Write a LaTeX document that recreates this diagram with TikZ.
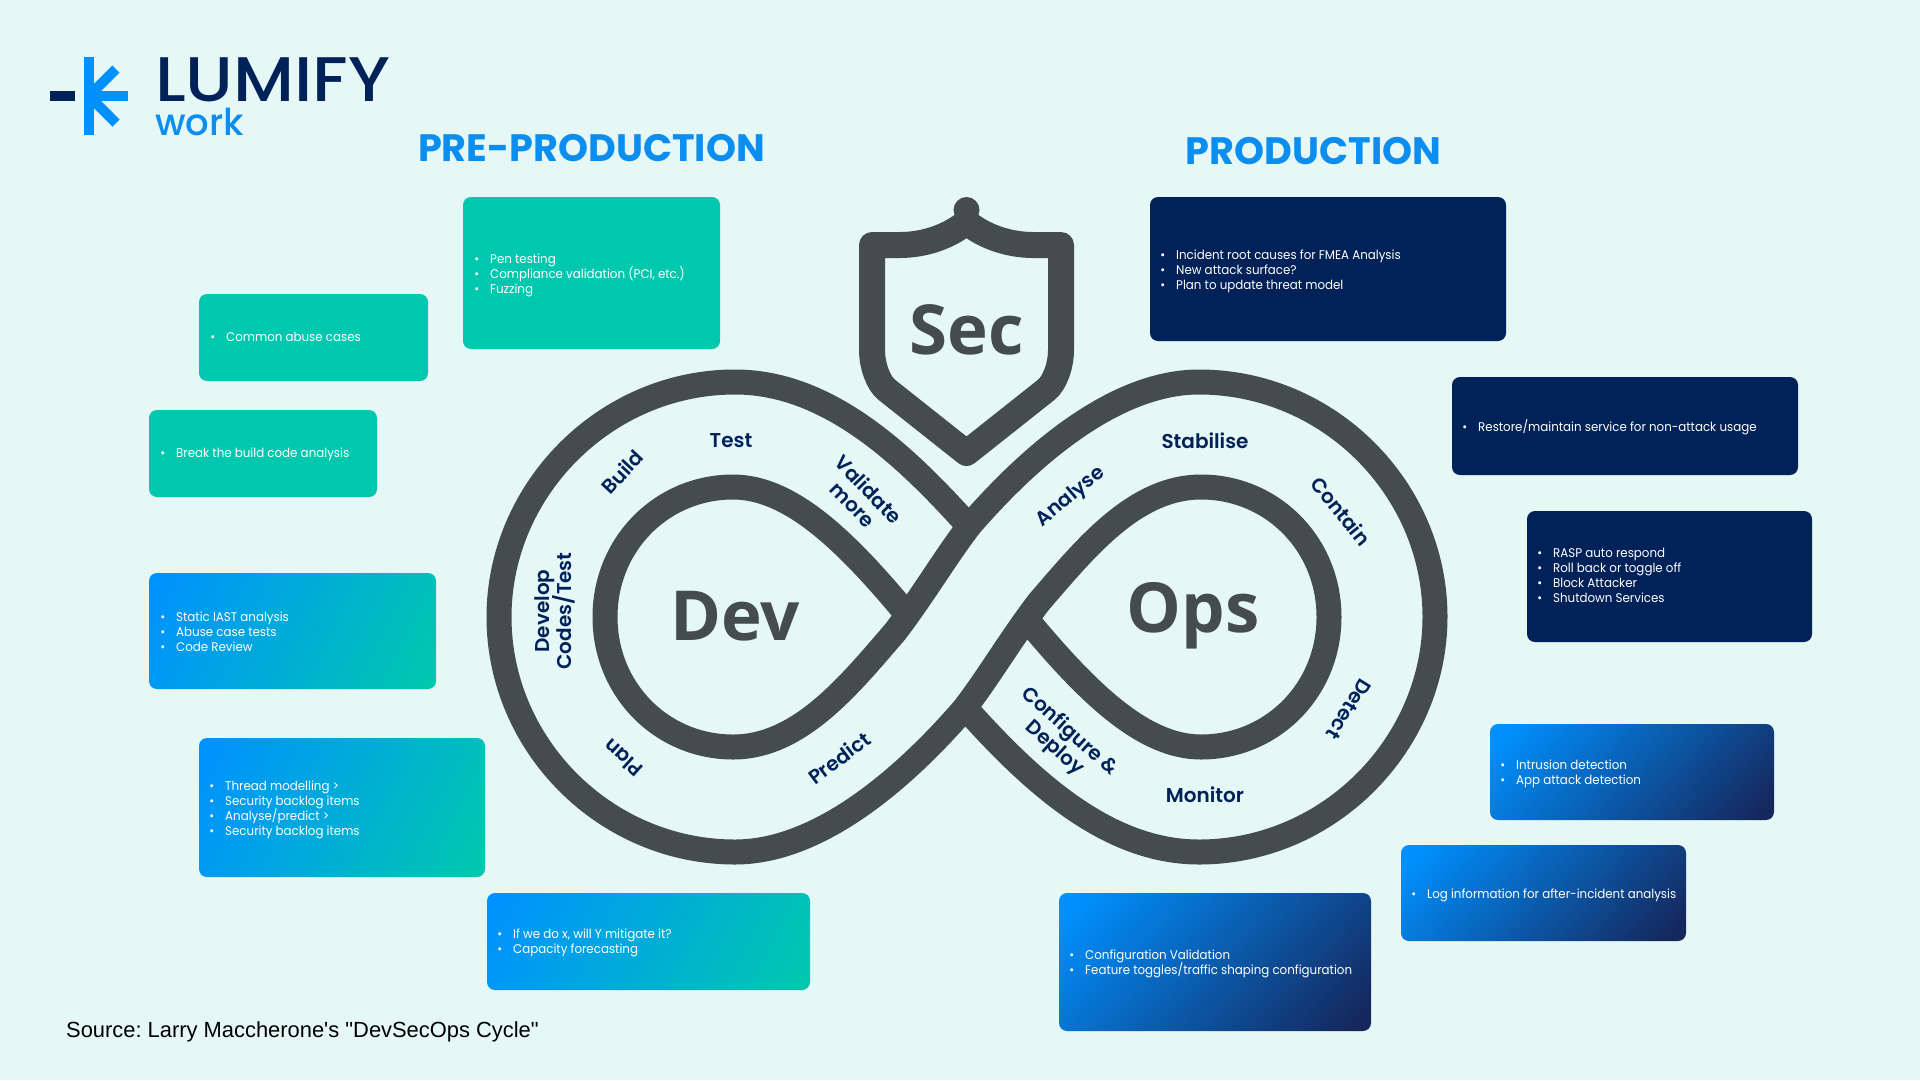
\documentclass[tikz,border=0pt]{standalone}
\usepackage{fontspec}
\setmainfont{Poppins}
\newfontfamily\cardfont[FakeStretch=0.94]{Poppins}
\newfontfamily\labfont{Poppins SemiBold}
\newfontfamily\medfont{Poppins Medium}
\newfontfamily\opensans[BoldFont={Open Sans Bold}]{Open Sans}
\newfontfamily\srcfont{Liberation Sans}
\usetikzlibrary{shadings}
\definecolor{bgc}{HTML}{E5F8F6}
\definecolor{loopc}{HTML}{454C4D}
\definecolor{navy}{HTML}{012159}
\definecolor{teal}{HTML}{00C8AE}
\definecolor{skyb}{HTML}{0091FF}
\definecolor{navyb}{HTML}{15275C}
\definecolor{titleb}{HTML}{0B8EF0}
\pgfdeclareverticalshading{blueteal}{100bp}{color(0bp)=(teal); color(18bp)=(teal); color(82bp)=(skyb); color(100bp)=(skyb)}
\pgfdeclareverticalshading{bluenavy}{100bp}{color(0bp)=(navyb); color(18bp)=(navyb); color(82bp)=(skyb); color(100bp)=(skyb)}
\newcommand{\bl}{\makebox[0pt][r]{\textbullet\hspace{11pt}}\strut}
\tikzset{
  x=1pt,y=-1pt,
  card/.style={inner sep=0,outer sep=0,rounded corners=8pt,text=white},
  tealcard/.style={card,fill=teal},
  navycard/.style={card,fill=navy},
  bluetealcard/.style={card,shade,shading=blueteal,shading angle=65},
  bluenavycard/.style={card,shade,shading=bluenavy,shading angle=47},
  bullets/.style={anchor=west,align=left,inner sep=0,yshift=-1.5pt,text=white,font=\cardfont\fontsize{12.6}{15}\selectfont},
  band/.style={draw=loopc,line width=25pt,line join=round},
  lab/.style={text=navy,inner sep=0,align=center,font=\labfont\fontsize{20}{22}\selectfont},
  bigw/.style={text=loopc,inner sep=0,font=\opensans\bfseries\fontsize{69}{69}\selectfont},
  sectitle/.style={text=titleb,inner sep=0,font=\bfseries\fontsize{38.2}{38.2}\selectfont},
}
\AtBeginDocument{\lineskiplimit=-20pt\relax}
\begin{document}
\begin{tikzpicture}
\fill[bgc] (0,0) rectangle (1920,1080);
\useasboundingbox (0,0) rectangle (1920,1080);

% logo
\fill[navy] (50,91) rectangle (74.7,101);
\fill[skyb] (84,57) rectangle (94,135);
\fill[skyb] (94,91) rectangle (128,101);
\draw[skyb,line width=10pt] (89,96) -- (116,69);
\draw[skyb,line width=10pt] (89,96) -- (116,123);
\node[text=navy,inner sep=0,anchor=base west,xscale=1.098,font=\medfont\fontsize{63}{63}\selectfont] (lumify) at (155,101) {LUMIFY};
\node[text=titleb,inner sep=0,anchor=base west,font=\medfont\fontsize{37}{37}\selectfont] (work) at (155,135) {work};

% section titles
\node[sectitle] (pre) at (591.5,148) {PRE-PRODUCTION};
\node[sectitle] (prod) at (1313.5,151) {PRODUCTION};

% shield
\draw[band,line width=26pt] (872,245) -- (900,245) .. controls (925,245) and (950,236) .. (966.5,222)
  .. controls (983,236) and (1008,245) .. (1033,245) -- (1061,245) -- (1061,350)
  .. controls (1061,365) and (1055,383) .. (1046,390) -- (966.5,453) -- (887,390)
  .. controls (878,383) and (872,365) .. (872,350) -- cycle;
\fill[loopc] (966.5,210) circle (13);

% figure of eight
\draw[band] (965,522) .. controls (900,450) and (825,382) .. (735,382)
  .. controls (605,382) and (499,490) .. (499,617)
  .. controls (499,745) and (605,852) .. (735,852)
  .. controls (816,852) and (899,784) .. (964,709)
  .. controls (990,675) and (1010,640) .. (1039,602)
  .. controls (1084,550) and (1134,487) .. (1201,487)
  .. controls (1272,487) and (1329,544) .. (1329,617)
  .. controls (1329,690) and (1272,747) .. (1201,747)
  .. controls (1144,747) and (1089,694) .. (1029,622);
\draw[band] (905,612) .. controls (845,540) and (790,487) .. (733,487)
  .. controls (662,487) and (605,544) .. (605,617)
  .. controls (605,690) and (662,747) .. (733,747)
  .. controls (800,747) and (850,684) .. (895,632)
  .. controls (924,594) and (944,559) .. (970,525)
  .. controls (1035,450) and (1118,382) .. (1199,382)
  .. controls (1329,382) and (1435,489) .. (1435,617)
  .. controls (1435,744) and (1329,852) .. (1199,852)
  .. controls (1109,852) and (1034,784) .. (969,712);

% big words
\node[bigw] (dev) at (735,616) {Dev};
\node[bigw] (ops) at (1193,616) {Ops};
\node[bigw] (sec) at (967,330) {Sec};

% loop labels
\node[lab] (test) at (731,441) {Test};
\node[lab,rotate=47] (build) at (622,472) {Build};
\node[lab,rotate=-46] (valid) at (861,497) {Validate\\more};
\node[lab,rotate=90] (devel) at (555,611) {Develop\\Codes/Test};
\node[lab,rotate=138] (plan) at (623,758) {Plan};
\node[lab,rotate=37] (predict) at (839,758) {Predict};
\node[lab,rotate=40] (analyse) at (1071,497) {Analyse};
\node[lab] (stab) at (1205,441) {Stabilise};
\node[lab,rotate=-51] (contain) at (1341,511) {Contain};
\node[lab,rotate=-122] (detect) at (1349,709) {Detect};
\node[lab,rotate=-42] (config) at (1062,740) {Configure \&\\Deploy};
\node[lab] (monitor) at (1205,795) {Monitor};

% cards
\node[tealcard,minimum width=257pt,minimum height=152pt] (c1) at (591.5,273) {};
\node[tealcard,minimum width=229pt,minimum height=87pt] (c2) at (313.5,337.5) {};
\node[tealcard,minimum width=228pt,minimum height=87pt] (c3) at (263,453.5) {};
\node[bluetealcard,minimum width=287pt,minimum height=116pt] (c4) at (292.5,631) {};
\node[bluetealcard,minimum width=286pt,minimum height=139pt] (c5) at (342,807.5) {};
\node[bluetealcard,minimum width=323pt,minimum height=97pt] (c6) at (648.5,941.5) {};
\node[navycard,minimum width=356pt,minimum height=144pt] (c7) at (1328,269) {};
\node[navycard,minimum width=346pt,minimum height=98pt] (c8) at (1625,426) {};
\node[navycard,minimum width=285pt,minimum height=131pt] (c9) at (1669.5,576.5) {};
\node[bluenavycard,minimum width=284pt,minimum height=96pt] (c10) at (1632,772) {};
\node[bluenavycard,minimum width=285pt,minimum height=96pt] (c11) at (1543.5,893) {};
\node[bluenavycard,minimum width=312pt,minimum height=138pt] (c12) at (1215,962) {};

% card texts
\node[bullets] (t1) at (490,273.5) {\bl Pen testing\\\bl Compliance validation (PCI, etc.)\\\bl Fuzzing};
\node[bullets] (t2) at (226,337) {\bl Common abuse cases};
\node[bullets] (t3) at (176,453) {\bl Break the build code analysis};
\node[bullets] (t4) at (176,632) {\bl Static IAST analysis\\\bl Abuse case tests\\\bl Code Review};
\node[bullets] (t5) at (225,808.5) {\bl Thread modelling >\\\bl Security backlog items\\\bl Analyse/predict >\\\bl Security backlog items};
\node[bullets] (t6) at (513,941) {\bl If we do x, will Y mitigate it?\\\bl Capacity forecasting};
\node[bullets] (t7) at (1176,269.5) {\bl Incident root causes for FMEA Analysis\\\bl New attack surface?\\\bl Plan to update threat model};
\node[bullets] (t8) at (1478,426) {\bl Restore/maintain service for non-attack usage};
\node[bullets] (t9) at (1553,575.5) {\bl RASP auto respond\\\bl Roll back or toggle off\\\bl Block Attacker\\\bl Shutdown Services};
\node[bullets] (t10) at (1516,772.5) {\bl Intrusion detection\\\bl App attack detection};
\node[bullets] (t11) at (1427,894) {\bl Log information for after-incident analysis};
\node[bullets] (t12) at (1085,962.5) {\bl Configuration Validation\\\bl Feature toggles/traffic shaping configuration};

\node[anchor=west,inner sep=0,text=black,font=\srcfont\fontsize{21.9}{24}\selectfont] (source) at (66,1032) {\frenchspacing Source: Larry Maccherone's "DevSecOps Cycle"};
\end{tikzpicture}
\end{document}
